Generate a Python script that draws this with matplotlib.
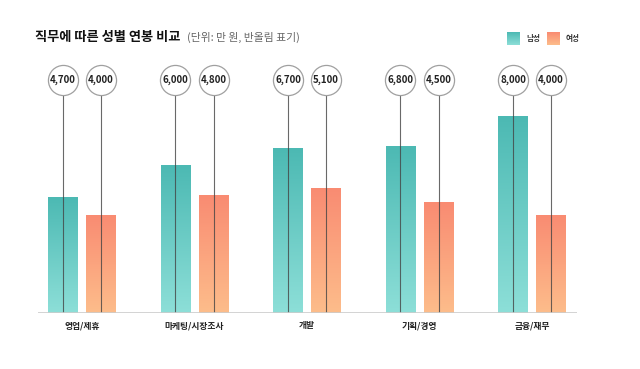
import numpy as np
import matplotlib
matplotlib.use('Agg')
import matplotlib.pyplot as plt
from matplotlib.colors import LinearSegmentedColormap

plt.rcParams['font.family'] = ['Noto Sans CJK KR', 'DejaVu Sans']

# data (단위: 만 원)
categories = ['영업/제휴', '마케팅/시장조사', '개발', '기획/경영', '금융/재무']
male = [4700, 6000, 6700, 6800, 8000]
female = [4000, 4800, 5100, 4500, 4000]
series_names = ['남성', '여성']

male_cmap = LinearSegmentedColormap.from_list('m', ['#8ddfd8', '#4cb9b3'])
female_cmap = LinearSegmentedColormap.from_list('f', ['#fdbd8b', '#f98b72'])

fig = plt.figure(figsize=(6.4, 3.69), dpi=100)
ax = fig.add_axes([38 / 640, 56 / 369, 539 / 640, 270 / 369])
ymax = 270 / 0.0246
ax.set_xlim(-0.391, 4.4)
ax.set_ylim(0, ymax)

x = np.arange(len(categories))
off = 0.169
width = 0.258
label_y = (313 - 80) / 0.0246

grad = np.linspace(0, 1, 256).reshape(-1, 1)


def gradient_bars(xs, vals, cmap):
    bars = ax.bar(xs, vals, width=width, color='none', edgecolor='none', zorder=2)
    for b in bars:
        x0, y0 = b.get_x(), b.get_y()
        im = ax.imshow(grad, cmap=cmap, origin='lower', aspect='auto',
                       extent=[x0, x0 + b.get_width(), y0, y0 + b.get_height()],
                       zorder=2)
        im.set_clip_path(b)
    return bars


gradient_bars(x - off, male, male_cmap)
gradient_bars(x + off, female, female_cmap)

# pin lines + circle labels
for xs, vals in [(x - off, male), (x + off, female)]:
    ax.vlines(xs, 0, label_y, color='#444444', lw=0.8, alpha=0.8, zorder=3)
    ax.scatter(xs, [label_y] * len(xs), s=470, facecolor='white',
               edgecolor='#a0a0a0', lw=0.9, zorder=4)
    for xi, v in zip(xs, vals):
        ax.text(xi, label_y, f'{v:,}', ha='center', va='center', fontsize=7,
                color='#222222', fontweight='bold', zorder=5)

ax.axhline(0, color='#cccccc', lw=1.2, zorder=3)

ax.set_xticks(x)
ax.set_xticklabels(categories, fontsize=6.3, fontweight='bold', color='#222222')
ax.tick_params(axis='x', length=0, pad=6)
ax.set_yticks([])
for s in ax.spines.values():
    s.set_visible(False)
ax.set_facecolor('none')

# title
fig.text(35 / 640, 1 - 37 / 369, '직무에 따른 성별 연봉 비교', fontsize=9.5,
         fontweight='bold', color='#111111', va='center')
fig.text(187 / 640, 1 - 37 / 369, '(단위: 만 원, 반올림 표기)', fontsize=7.8,
         color='#666666', va='center')

# legend
for (lx, name, cmap) in [(507, series_names[0], male_cmap), (547, series_names[1], female_cmap)]:
    lax = fig.add_axes([lx / 640, 1 - 45 / 369, 13 / 640, 13 / 369])
    lax.imshow(grad, cmap=cmap, origin='lower', aspect='auto')
    lax.axis('off')
    fig.text((lx + 19) / 640, 1 - 39 / 369, name, fontsize=5.5, fontweight='bold',
             color='#333333', va='center')

fig.savefig('out.png', dpi=100, facecolor='white')
